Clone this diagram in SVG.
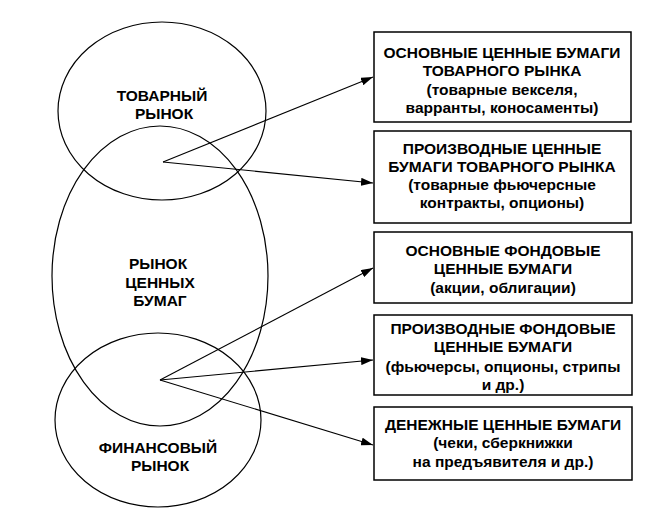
<svg xmlns="http://www.w3.org/2000/svg" width="662" height="519" viewBox="0 0 662 519">
<defs>
<style>
.sh{fill:none;stroke:#000;stroke-width:1.2}
.bx{fill:#fff;stroke:#000;stroke-width:1.5}
.t{font-family:"Liberation Sans",Arial,sans-serif;font-size:15.5px;font-weight:bold;text-anchor:middle;fill:#000}
.c{fill:none;stroke:#000;stroke-width:1.1;marker-end:url(#a)}
</style>
<marker id="a" markerWidth="12" markerHeight="8" refX="12" refY="4" orient="auto" markerUnits="userSpaceOnUse"><path d="M0,0L12,4L0,8z" fill="#000"/></marker>
</defs>
<rect width="662" height="519" fill="#fff"/>
<g id="tovar"><ellipse class="sh" cx="162" cy="111" rx="104" ry="89"/><text class="t" x="162" y="101">ТОВАРНЫЙ</text><text class="t" x="164" y="119">РЫНОК</text></g>
<g id="rcb"><ellipse class="sh" cx="160" cy="276" rx="108" ry="150"/><text class="t" x="158" y="269">РЫНОК</text><text class="t" x="160" y="288">ЦЕННЫХ</text><text class="t" x="160" y="306">БУМАГ</text></g>
<g id="fin"><ellipse class="sh" cx="158" cy="420" rx="103" ry="87"/><text class="t" x="158" y="453">ФИНАНСОВЫЙ</text><text class="t" x="160" y="471">РЫНОК</text></g>
<g id="b1"><rect class="bx" x="374" y="32" width="257" height="90"/><text class="t" x="502" y="58">ОСНОВНЫЕ ЦЕННЫЕ БУМАГИ</text><text class="t" x="502" y="76">ТОВАРНОГО РЫНКА</text><text class="t" x="502" y="95">(товарные векселя,</text><text class="t" x="502" y="113">варранты, коносаменты)</text></g>
<g id="b2"><rect class="bx" x="374" y="131" width="257" height="92"/><text class="t" x="502" y="154">ПРОИЗВОДНЫЕ ЦЕННЫЕ</text><text class="t" x="502" y="172">БУМАГИ ТОВАРНОГО РЫНКА</text><text class="t" x="502" y="190">(товарные фьючерсные</text><text class="t" x="502" y="208">контракты, опционы)</text></g>
<g id="b3"><rect class="bx" x="374" y="232" width="258" height="71"/><text class="t" x="503" y="256">ОСНОВНЫЕ ФОНДОВЫЕ</text><text class="t" x="503" y="274">ЦЕННЫЕ БУМАГИ</text><text class="t" x="503" y="293">(акции, облигации)</text></g>
<g id="b4"><rect class="bx" x="374" y="315" width="258" height="80"/><text class="t" x="503" y="334">ПРОИЗВОДНЫЕ ФОНДОВЫЕ</text><text class="t" x="503" y="352">ЦЕННЫЕ БУМАГИ</text><text class="t" x="503" y="372">(фьючерсы, опционы, стрипы</text><text class="t" x="503" y="390">и др.)</text></g>
<g id="b5"><rect class="bx" x="374" y="407" width="258" height="73"/><text class="t" x="503" y="430">ДЕНЕЖНЫЕ ЦЕННЫЕ БУМАГИ</text><text class="t" x="503" y="448">(чеки, сберкнижки</text><text class="t" x="503" y="467">на предъявителя и др.)</text></g>
<g id="connectors">
<path class="c" d="M163,162L373,77"/>
<path class="c" d="M163,162L373,183"/>
<path class="c" d="M160,380L373,268"/>
<path class="c" d="M160,380L373,360"/>
<path class="c" d="M160,380L373,445"/>
</g>
</svg>
